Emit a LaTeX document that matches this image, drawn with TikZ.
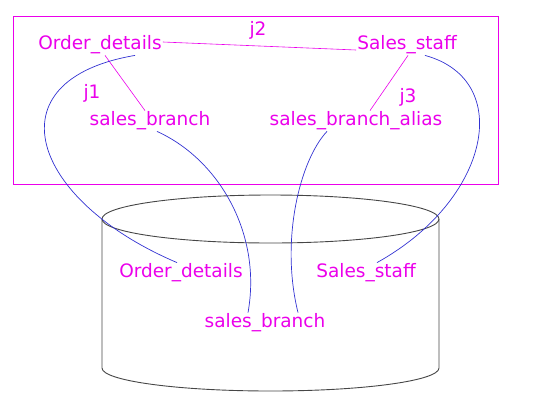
\documentclass[tikz,border=0pt]{standalone}
\usepackage{fontspec}
\setmainfont{DejaVu Sans}
\usepackage{tikz}
\usetikzlibrary{positioning}
\definecolor{tblmag}{RGB}{235,0,235}
\definecolor{tblblue}{RGB}{50,50,210}
\definecolor{dbgray}{RGB}{70,70,70}
\tikzset{tbl/.style={text=tblmag,inner sep=1pt,font=\fontsize{18.5}{21}\selectfont},
         joinline/.style={draw=tblmag,line width=0.6pt},
         mapline/.style={draw=tblblue,line width=0.7pt}}

\begin{document}
\begin{tikzpicture}[x=1pt,y=-1pt]
\useasboundingbox (0,0) rectangle (543,405);
\draw[tblmag,line width=0.8pt] (13,16) rectangle (498,184);
\draw[dbgray,line width=0.9pt] (270.5,219) ellipse [x radius=168.5, y radius=24];
\draw[dbgray,line width=0.9pt] (102,219) -- (102,368) arc[start angle=180, end angle=0, x radius=168.5, y radius=23] -- (439,219);
\node[tbl] (od1) at (100,45) {Order\_details};
\node[tbl] (ss1) at (407,45) {Sales\_staff};
\node[tbl] (sb1) at (150,121) {sales\_branch};
\node[tbl] (sba) at (356,121) {sales\_branch\_alias};
\node[tbl] (j1) at (92,93) {j1};
\node[tbl] (j2) at (258,30) {j2};
\node[tbl] (j3) at (408,97) {j3};
\node[tbl] (od2) at (181,273) {Order\_details};
\node[tbl] (ss2) at (366,273) {Sales\_staff};
\node[tbl] (sb2) at (265,323) {sales\_branch};
\draw[joinline] ([yshift=3pt]od1.east) -- ([yshift=-5pt]ss1.west);
\draw[joinline] ([xshift=5pt]od1.south) -- ([xshift=-5pt]sb1.north);
\draw[joinline] ([xshift=1pt]ss1.south) -- ([xshift=14pt]sba.north);
\draw[mapline] ([xshift=35pt]od1.south) .. controls (-10,80) and (30,200) .. ([xshift=-4pt]od2.north);
\draw[mapline] ([xshift=18pt]ss1.south) .. controls (515,80) and (490,200) .. ([xshift=11pt]ss2.north);
\draw[mapline] ([xshift=7pt]sb1.south) .. controls (220,160) and (262,235) .. ([xshift=-17pt]sb2.north);
\draw[mapline] ([xshift=-29pt]sba.south) .. controls (300,160) and (280,240) .. ([xshift=33pt]sb2.north);
\end{tikzpicture}
\end{document}
